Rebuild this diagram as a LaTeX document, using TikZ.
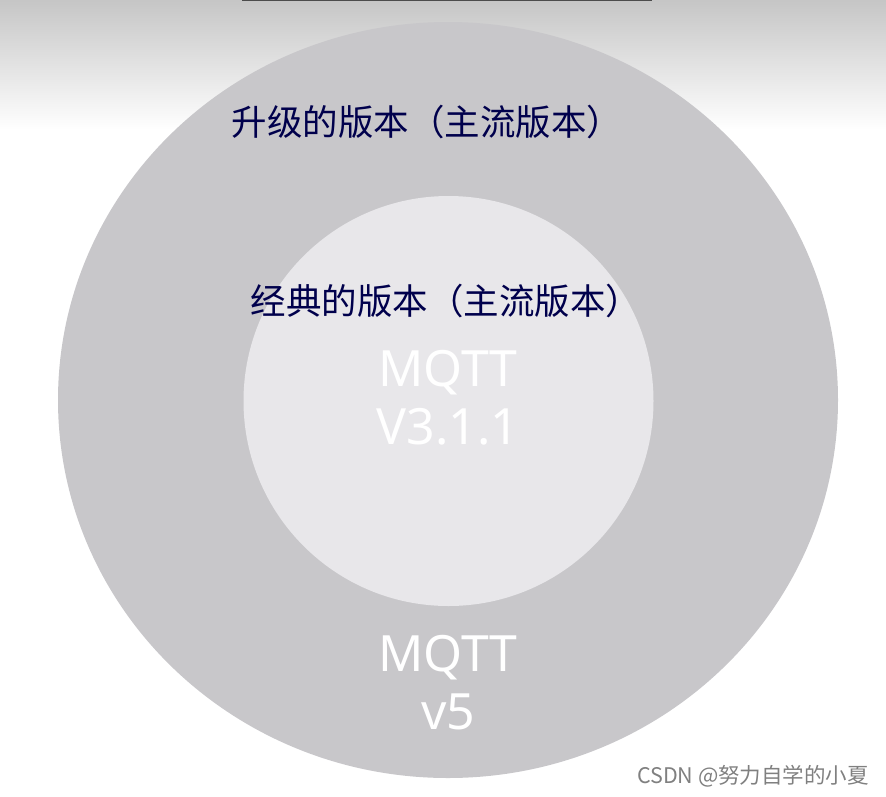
\documentclass[tikz,border=0pt]{standalone}
\usepackage{fontspec}
\setmainfont{Noto Sans}
\newfontfamily\cjk{Noto Sans CJK SC}
\begin{document}
\begin{tikzpicture}[x=1pt,y=-1pt,
  lbl/.style={font=\cjk\fontsize{35.5}{38}\selectfont,text=blue!30!black},
  big/.style={font=\fontsize{50}{58}\selectfont,text=white,align=center}]
\useasboundingbox (0,0) rectangle (886,796);
\shade[top color=gray!45,bottom color=white] (0,0) rectangle (886,130);
\draw[line width=1.5pt,black!70] (242,0) -- (652,0);
\fill[fill={rgb,255:red,200;green,199;blue,202}] (448,400) ellipse [x radius=390, y radius=378];
\fill[fill={rgb,255:red,232;green,231;blue,234}] (448.5,401) circle [radius=205];
\node[lbl] (t1) at (427,122) {升级的版本（主流版本）};
\node[lbl] (t2) at (446,301) {经典的版本（主流版本）};
\node[big] (v3) at (448,398) {MQTT\\V3.1.1};
\node[big] (v5) at (448,683) {MQTT\\v5};
\node[font=\cjk\fontsize{21.5}{24}\selectfont,text=gray] (wm) at (753,776) {CSDN @努力自学的小夏};
\end{tikzpicture}
\end{document}
